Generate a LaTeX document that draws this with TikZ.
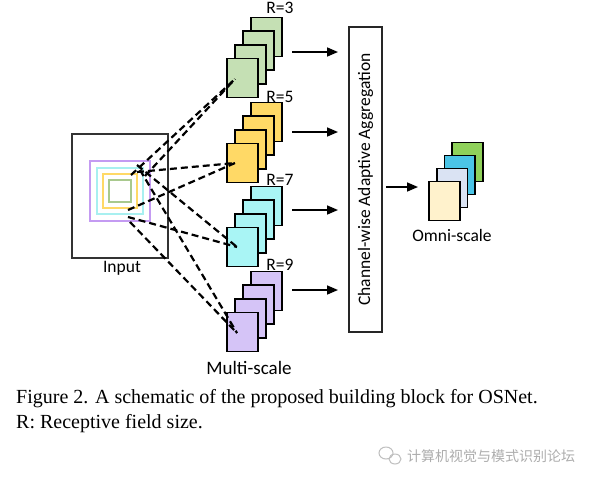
\documentclass[tikz,border=0pt]{standalone}
\usepackage{fontspec}
\setmainfont{Liberation Serif}
\newfontfamily\diagfont{Carlito}
\newfontfamily\cjkfont{Noto Sans CJK SC}
\usetikzlibrary{arrows.meta}
\definecolor{gfill}{HTML}{C5E0B4}
\definecolor{yfill}{HTML}{FFD966}
\definecolor{cfill}{HTML}{A9F5F5}
\definecolor{pfill}{HTML}{D5C4F7}
\definecolor{obeige}{HTML}{FFF2CC}
\definecolor{oblue}{HTML}{DAE3F3}
\definecolor{osky}{HTML}{4BC4E6}
\definecolor{ogreen}{HTML}{8FD15A}
\definecolor{sqpurple}{HTML}{C49BF2}
\definecolor{sqcyan}{HTML}{A8F0F0}
\definecolor{sqyellow}{HTML}{FFD966}
\definecolor{sqgreen}{HTML}{A9C98E}
\begin{document}
\begin{tikzpicture}[x=1pt,y=-1pt,
  layer/.style={draw=black, line width=1.8pt, minimum width=30.5pt, minimum height=39pt, inner sep=0pt},
  rfsq/.style={draw=#1, line width=1.5pt, inner sep=0pt},
  lab/.style={font=\diagfont\fontsize{17.5}{20}\selectfont, inner sep=0pt},
  rfline/.style={line width=2.2pt, dash pattern=on 7pt off 4pt},
  arr/.style={line width=1.6pt, -{Triangle[length=11pt,width=9pt]}},
  capt/.style={anchor=base west, inner sep=0pt, font=\fontsize{20}{24}\selectfont}]
\useasboundingbox (0,0) rectangle (595,483);
\fill[white] (0,0) rectangle (595,483);

% input
\node[draw=black!80, line width=1.5pt, minimum width=96pt, minimum height=124pt, inner sep=0pt] (inbox) at (120,196) {};
\node[rfsq=sqpurple, minimum size=60pt] (sqp) at (120,191) {};
\node[rfsq=sqcyan, minimum size=46pt] (sqc) at (120,191) {};
\node[rfsq=sqyellow, minimum size=34pt] (sqy) at (120,191) {};
\node[rfsq=sqgreen, minimum size=22pt] (sqg) at (120,191) {};
\node[lab] (inlab) at (122,268) {Input};

% multi-scale stacks
\foreach \nm/\col/\ty in {g/gfill/58, y/yfill/143, c/cfill/227, p/pfill/312} {
  \foreach \k in {3,2,1,0} {
    \node[layer, fill=\col] (\nm\k) at ({242.5+8*\k}, {\ty+20-13.7*\k}) {};
  }
}
\node[lab] (r3) at (280,8) {R=3};
\node[lab] (r5) at (280,97) {R=5};
\node[lab] (r7) at (280,180) {R=7};
\node[lab] (r9) at (280,265) {R=9};
\node[lab, font=\diagfont\fontsize{19}{22}\selectfont] (mslab) at (249,368) {Multi-scale};

% dashed receptive-field lines
\coordinate (gt) at (235,79);
\coordinate (yt) at (235,163);
\coordinate (ct) at (237,247);
\coordinate (ptg) at (237,333);
\coordinate (g1s) at (131,175);
\coordinate (g2s) at (145,176);
\coordinate (y1s) at (137,172);
\coordinate (y2s) at (128,210);
\coordinate (c1s) at (137,165);
\coordinate (c2s) at (128,217);
\coordinate (p1s) at (140,170);
\coordinate (p2s) at (130,222);
\draw[rfline] (g1s) -- (gt);
\draw[rfline] (g2s) -- (gt);
\draw[rfline] (y1s) -- (yt);
\draw[rfline] (y2s) -- (yt);
\draw[rfline] (c1s) -- (ct);
\draw[rfline] (c2s) -- (ct);
\draw[rfline] (p1s) -- (ptg);
\draw[rfline] (p2s) -- (ptg);

% aggregation
\node[draw=black!85, line width=1.5pt, rotate=90, minimum width=305pt, minimum height=33pt, inner sep=0pt, font=\diagfont\fontsize{17.5}{20}\selectfont] (agg) at (365.5,179.5) {Channel-wise Adaptive Aggregation};
\foreach \nm/\yy in {a/52, b/132, c/210, d/290} {
  \coordinate (\nm s) at (292,\yy);
  \coordinate (\nm e) at (338,\yy);
  \draw[arr] (\nm s) -- (\nm e);
}
\coordinate (os) at (386,187);
\coordinate (oe) at (418,187);
\draw[arr] (os) -- (oe);

% omni-scale stack
\foreach \k/\col in {3/ogreen, 2/osky, 1/oblue, 0/obeige} {
  \node[layer, fill=\col] (o\k) at ({444.5+7.67*\k}, {201-13*\k}) {};
}
\node[lab] (omlab) at (452,235) {Omni-scale};

% caption
\node[capt] (cap1) at (16,403) {Figure 2. A schematic of the proposed building block for OSNet.};
\node[capt] (cap2) at (16,428) {R: Receptive field size.};

% watermark
\draw[black!25, line width=1pt] (386,453) ellipse (7pt and 6pt);
\draw[black!25, line width=1pt] (395,459) ellipse (6pt and 5pt);
\node[anchor=west, inner sep=0pt, font=\cjkfont\fontsize{14}{14}\selectfont, text=black!32] (wm) at (407,456) {计算机视觉与模式识别论坛};
\end{tikzpicture}
\end{document}
